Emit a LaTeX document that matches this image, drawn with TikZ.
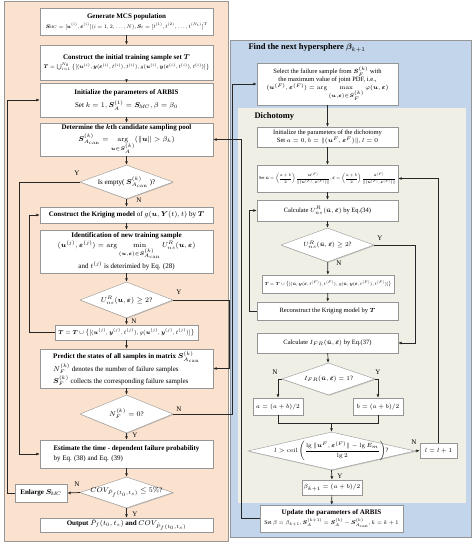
\documentclass[tikz,border=0pt]{standalone}
\usepackage{amsmath}
\usepackage{bm}
\usepackage[no-math]{fontspec}
\setmainfont{Liberation Serif}
\usepackage{tikz}
\usetikzlibrary{shapes.geometric,arrows.meta,positioning,shadows}

\definecolor{peach}{RGB}{250,226,206}
\definecolor{skyblue}{RGB}{194,213,234}
\definecolor{paleolive}{RGB}{239,239,229}
\definecolor{boxline}{RGB}{150,150,150}

\newcommand{\vu}{\bm{u}}
\newcommand{\ve}{\bm{\varepsilon}}
\newcommand{\vS}{\bm{S}}
\newcommand{\vT}{\bm{T}}
\newcommand{\vy}{\bm{y}}
\newcommand{\Smc}{\bm{S}_{\!M\!C}}
\newcommand{\Scan}{\bm{S}^{(k)}_{A_{\mathrm{can}}}}
\newcommand{\ub}{\bar{\bm{u}}}
\newcommand{\eb}{\bar{\bm{\varepsilon}}}

\tikzset{
	procbox/.style={draw=boxline, fill=white, align=center, inner sep=1pt,
		minimum width=173pt,
		drop shadow={shadow xshift=0.8pt,shadow yshift=-0.8pt,fill=black!40,opacity=0.5}},
	dichbox/.style={procbox, minimum width=141pt, font=\fontsize{6.5}{8}\selectfont},
	decision/.style={draw=boxline, fill=white, shape=diamond, inner sep=0pt,
		drop shadow={shadow xshift=0.8pt,shadow yshift=-0.8pt,fill=black!40,opacity=0.5}},
	flow/.style={draw=black!85, line width=0.7pt, ->},
	link/.style={draw=black!85, line width=0.7pt},
	yn/.style={font=\fontsize{7}{8}\selectfont}
}

\begin{document}
\begin{tikzpicture}[x=1pt,y=-1pt,font=\fontsize{7}{8.5}\selectfont,
	>={Latex[length=3.5pt,width=3pt]}]
	\useasboundingbox (0,0) rectangle (474,545);

	% panels
	\draw[boxline, fill=peach] (4,1) rectangle (228,541);
	\draw[boxline, fill=skyblue] (230,40) rectangle (471,537);
	\fill[paleolive] (238,108) rectangle (466,503);
	\node[anchor=west, font=\fontsize{8.5}{10}\selectfont\bfseries] (findtitle) at (245,48) {Find the next hypersphere $\bm{\beta}_{k+1}$};
	\node[anchor=west, font=\fontsize{8.5}{10}\selectfont\bfseries] (dichtitle) at (251,116) {Dichotomy};

	% left column
	\node[procbox, minimum height=27pt] (mcs) at (126.5,21.5) {\textbf{Generate MCS population}\\[1pt]
		\resizebox{162pt}{!}{$\Smc=[\vu^{(i)},\ve^{(i)}](i=1,2,\ldots,N),\vS_t=[t^{(1)},t^{(2)},\ldots,t^{(N_t)}]^{\mathrm{T}}$}};
	\node[procbox, minimum height=35pt] (init) at (126.5,62.5) {\textbf{Construct the initial training sample set $\vT$}\\[1pt]
		\resizebox{166pt}{!}{$\vT=\bigcup_{i=1}^{N_0}\big\{[(\vu^{(i)},\vy(\ve^{(i)},t^{(i)}),t^{(i)}),g(\vu^{(i)},\vy(\ve^{(i)},t^{(i)}),t^{(i)})]\big\}$}};
	\node[procbox, minimum height=34pt] (arbis) at (126.5,100) {\textbf{Initialize the parameters of ARBIS}\\[3pt]
		Set $k=1,\vS_A^{(1)}=\Smc,\beta=\beta_0$};
	\node[procbox, minimum height=33pt] (pool) at (126.5,139.5) {\textbf{Determine the $\bm{k}$th candidate sampling pool}\\[2pt]
		$\Scan=\mathop{\arg}\limits_{\vu\in\vS_A^{(k)}}(\|\vu\|>\beta_k)$};
	\node[decision, minimum width=93pt, minimum height=34pt,
		label=center:{Is empty( $\Scan$ )?}] (empty) at (126.5,182) {};
	\node[procbox, minimum height=16pt] (krig) at (126.5,215) {\textbf{Construct the Kriging model} of $g(\vu,\bm{Y}(t),t)$ by $\vT$};
	\node[procbox, minimum height=43pt] (ident) at (126.5,251.5) {\textbf{Identification of new training sample}\\[1pt]
		$(\vu^{(j)},\ve^{(j)})=\arg\min\limits_{(\vu,\ve)\in\Scan}U^{R}_{ns}(\vu,\ve)$\\[1pt]
		and $t^{(j)}$ is deterimied by Eq. (28)};
	\node[decision, minimum width=93pt, minimum height=36pt,
		label=center:{$U^{R}_{ns}(\vu,\ve)\geq 2$?}] (ucheck) at (126.5,300) {};
	\node[procbox, minimum width=143pt, minimum height=15pt] (addT) at (126.5,332.5)
		{\resizebox{136pt}{!}{$\vT=\vT\cup\big\{[(\vu^{(j)},\vy^{(j)},t^{(j)}),g(\vu^{(j)},\vy^{(j)},t^{(j)})]\big\}$}};
	\node[procbox, minimum height=39pt, align=left] (predict) at (126.5,368.5) {\textbf{Predict the states of all samples in matrix $\Scan$}\\[1pt]
		$N_F^{(k)}$ denotes the number of failure samples\\[1pt]
		$\vS_F^{(k)}$ collects the corresponding failure samples};
	\node[decision, minimum width=93pt, minimum height=38pt,
		label=center:{$N_F^{(k)}=0$?}] (nfcheck) at (126.5,414) {};
	\node[procbox, minimum height=28pt, align=left] (estim) at (126.5,454) {\textbf{Estimate the time - dependent failure probability}\\[2pt]
		by Eq. (38) and Eq. (39)};
	\node[decision, minimum width=93pt, minimum height=31pt,
		label=center:{$COV_{\hat{P}_f(t_0,t_s)}\leq 5\%$?}] (covcheck) at (126.5,492.5) {};
	\node[procbox, minimum width=52pt, minimum height=18pt] (enlarge) at (41,493) {\textbf{Enlarge $\Smc$}};
	\node[procbox, minimum height=14pt] (output) at (126.5,525) {\textbf{Output} $\hat{P}_f(t_0,t_s)$ \textbf{and} $COV_{\hat{P}_f(t_0,t_s)}$};

	% right column
	\node[dichbox, minimum height=42pt] (select) at (327.5,84) {Select the failure sample from $\vS_F^{(k)}$ with\\
		the maximum value of joint PDF, i.e.,\\
		$(\vu^{(F)},\ve^{(F)})=\arg\max\limits_{(\vu,\ve)\in\vS_F^{(k)}}\varphi(\vu,\ve)$};
	\node[dichbox, minimum height=20pt] (dinit) at (327.5,137) {Initialize the parameters of the dichotomy\\
		Set $a=0,b=\|(\vu^{F},\ve^{F})\|,l=0$};
	\node[dichbox, minimum height=27pt] (setu) at (327.5,178.5)
		{\resizebox{137pt}{!}{Set $\ub=\left(\dfrac{a+b}{2}\right)\dfrac{\vu^{(F)}}{\|(\vu^{(F)},\ve^{(F)})\|},\eb=\left(\dfrac{a+b}{2}\right)\dfrac{\ve^{(F)}}{\|(\vu^{(F)},\ve^{(F)})\|}$}};
	\node[dichbox, minimum height=21pt] (calcu) at (327.5,210.5) {Calculate $U^{R}_{ns}(\ub,\eb)$ by Eq.(34)};
	\node[decision, minimum width=93pt, minimum height=34pt,
		label={[font=\fontsize{6.5}{8}\selectfont]center:{$U^{R}_{ns}(\ub,\eb)\geq 2$?}}] (ubcheck) at (327.5,245) {};
	\node[dichbox, minimum width=132pt, minimum height=18pt] (addTb) at (328,284)
		{\resizebox{127pt}{!}{$\vT=\vT\cup\big\{[(\ub,\vy(\eb,t^{(F)}),t^{(F)}),g(\ub,\vy(\eb,t^{(F)}),t^{(F)})]\big\}$}};
	\node[dichbox, minimum height=18pt] (rekrig) at (327.5,311) {Reconstruct the Kriging model by $\vT$};
	\node[dichbox, minimum height=20pt] (calci) at (327.5,343) {Calculate $I_{FR}(\ub,\eb)$ by Eq.(37)};
	\node[decision, minimum width=93pt, minimum height=32pt,
		label={[font=\fontsize{6.5}{8}\selectfont]center:{$I_{FR}(\ub,\eb)=1$?}}] (icheck) at (328.5,379) {};
	\node[dichbox, minimum width=50pt, minimum height=17pt] (seta) at (278,406.5) {$a=(a+b)/2$};
	\node[dichbox, minimum width=50pt, minimum height=17pt] (setb) at (378,406.5) {$b=(a+b)/2$};
	\coordinate (merge) at (331.5,423);
	\node[decision, minimum width=167pt, minimum height=38pt,
		label={[font=\fontsize{6.5}{8}\selectfont]center:{$l>\mathrm{ceil}\left(\dfrac{\lg\|\vu^{F},\ve^{(F)}\|-\lg E_m}{\lg 2}\right)$?}}] (lcheck) at (331.5,451) {};
	\node[dichbox, minimum width=37pt, minimum height=15pt] (incl) at (438.5,450.5) {$l=l+1$};
	\node[dichbox, minimum width=60pt, minimum height=15pt] (beta) at (332,487.5) {$\beta_{k+1}=(a+b)/2$};
	\node[dichbox, minimum width=143pt, minimum height=27pt, font=\fontsize{7}{8.5}\selectfont] (update) at (331.5,518.5) {\textbf{Update the parameters of ARBIS}\\[1pt]
		\resizebox{134pt}{!}{Set $\beta=\beta_{k+1},\vS_A^{(k+1)}=\vS_A^{(k)}-\Scan,k=k+1$}};

	% left connectors
	\draw[flow] (mcs) -- (init);
	\draw[flow] (init) -- (arbis);
	\draw[flow] (arbis) -- (pool);
	\draw[flow] (pool) -- (empty);
	\draw[flow] (empty) -- (krig);
	\draw[flow] (krig) -- (ident);
	\draw[flow] (ident) -- (ucheck);
	\draw[flow] (ucheck) -- (addT);
	\draw[flow] (addT) -- (predict);
	\draw[flow] (predict) -- (nfcheck);
	\draw[flow] (nfcheck) -- (estim);
	\draw[flow] (estim) -- (covcheck);
	\draw[flow] (covcheck) -- (output);
	\draw[flow] (covcheck.west) -- (enlarge.east);
	\draw[flow] (empty.west) -- ++(-60,0) |- (estim.west);
	\draw[flow] (addT.west) -- ++(-25,0) |- (krig.west);
	\draw[flow] (ucheck.east) -- ++(56,0) |- (predict.east);
	\draw[flow] (enlarge.west) -- ++(-7,0) |- (arbis.west);
	\draw[flow] (nfcheck.east) -- ++(59,0) |- (select.west);
	\draw[flow] (update.west) -- ++(-18,0) |- (pool.east);
	\node[yn] at (77,173) {Y};
	\node[yn] at (139,200) {N};
	\node[yn] at (179,292) {Y};
	\node[yn] at (134,321) {N};
	\node[yn] at (179,409) {N};
	\node[yn] at (135,435) {Y};
	\node[yn] at (77,484) {N};
	\node[yn] at (135,514) {Y};

	% right connectors
	\draw[flow] (select) -- (dinit);
	\draw[flow] (dinit) -- (setu);
	\draw[flow] (setu) -- (calcu);
	\draw[flow] (calcu) -- (ubcheck);
	\draw[flow] (ubcheck) -- (addTb);
	\draw[flow] (addTb) -- (rekrig);
	\draw[flow] (rekrig.west) -- ++(-7,0) |- (calcu.west);
	\draw[flow] (ubcheck.east) -- ++(41,0) |- (calci.east);
	\draw[flow] (calci) -- (icheck);
	\draw[flow] (icheck.west) -| (seta.north);
	\draw[flow] (icheck.east) -| (setb.north);
	\draw[link] (seta.south) |- (merge);
	\draw[link] (setb.south) |- (merge);
	\draw[flow] (merge) -- (lcheck.north);
	\draw[flow] (lcheck.east) -- (incl.west);
	\draw[flow] (incl.north) |- (setu.east);
	\draw[flow] (lcheck.south) -- (beta.north);
	\draw[flow] (beta) -- (update);
	\node[yn] at (380,238) {Y};
	\node[yn] at (339,263) {N};
	\node[yn] at (275,372) {N};
	\node[yn] at (378,372) {Y};
	\node[yn] at (414,442) {N};
	\node[yn] at (340,476) {Y};
\end{tikzpicture}
\end{document}
